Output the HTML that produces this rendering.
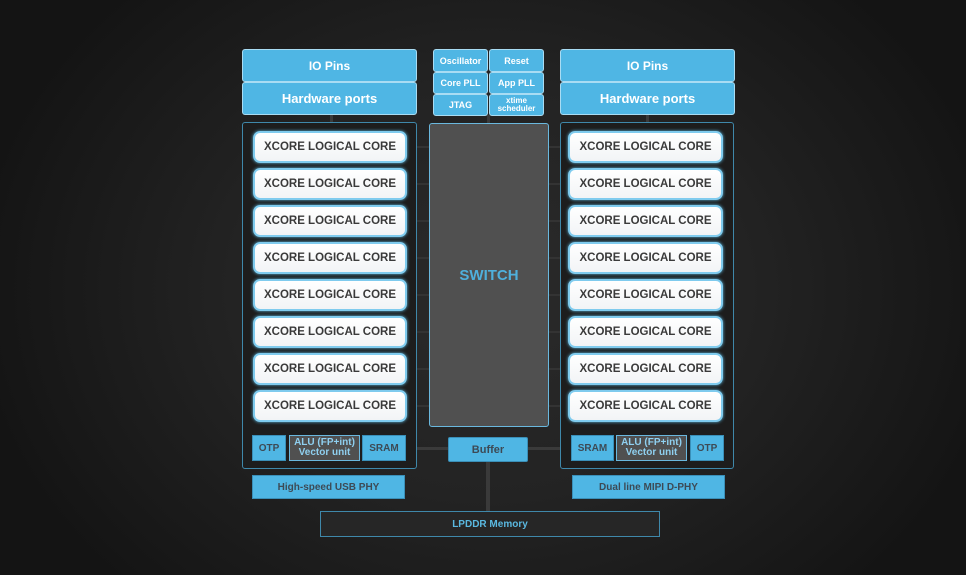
<!DOCTYPE html>
<html><head><meta charset="utf-8"><style>
html,body{margin:0;padding:0}
body{width:966px;height:575px;overflow:hidden;position:relative;font-family:"Liberation Sans",Arial,sans-serif;font-weight:bold;
background:radial-gradient(ellipse 520px 420px at 490px 290px,#2a2a2a 0%,#232323 50%,#1a1a1a 80%,#141414 100%);}
.a{position:absolute;box-sizing:border-box;display:flex;align-items:center;justify-content:center;text-align:center}
.blue{background:#4fb6e4;border:1px solid #a9dcf3;color:#fff;border-radius:3px}
.bl2{background:#4fb6e4;color:#3d4a55;border:1px solid #3a8fb8}
.panel{border:1.5px solid #3f88aa;border-radius:3px;background:#1d1d1d}
.core{background:linear-gradient(#ffffff,#f2f4f6);border:2px solid #7fcbee;border-radius:7px;color:#3a3a3a;font-size:11.5px;box-shadow:0 0 3px #5ab8e0}
.dark{background:#505050;border:1.5px solid #6ab8de;color:#8fd0f0}
.ln{position:absolute;background:#3a3a3a}
.dl{position:absolute;height:2px;background:#333}
.sm{font-size:9px}
</style></head><body>
<!-- connectors -->
<div class="ln" style="left:487px;top:115px;width:3px;height:8px"></div>
<div class="ln" style="left:330px;top:114px;width:3px;height:9px"></div>
<div class="ln" style="left:646px;top:114px;width:3px;height:9px"></div>
<div class="ln" style="left:486px;top:461px;width:4px;height:51px"></div>
<div class="ln" style="left:405px;top:447px;width:44px;height:3px"></div>
<div class="ln" style="left:527px;top:447px;width:45px;height:3px"></div>
<div class="dl" style="left:406px;top:146px;width:24px"></div>
<div class="dl" style="left:406px;top:183px;width:24px"></div>
<div class="dl" style="left:406px;top:220px;width:24px"></div>
<div class="dl" style="left:406px;top:257px;width:24px"></div>
<div class="dl" style="left:406px;top:294px;width:24px"></div>
<div class="dl" style="left:406px;top:331px;width:24px"></div>
<div class="dl" style="left:406px;top:368px;width:24px"></div>
<div class="dl" style="left:406px;top:405px;width:24px"></div>
<div class="dl" style="left:548px;top:146px;width:21px"></div>
<div class="dl" style="left:548px;top:183px;width:21px"></div>
<div class="dl" style="left:548px;top:220px;width:21px"></div>
<div class="dl" style="left:548px;top:257px;width:21px"></div>
<div class="dl" style="left:548px;top:294px;width:21px"></div>
<div class="dl" style="left:548px;top:331px;width:21px"></div>
<div class="dl" style="left:548px;top:368px;width:21px"></div>
<div class="dl" style="left:548px;top:405px;width:21px"></div>

<div class="a blue" style="left:242px;top:49px;width:175px;height:33px;font-size:12px">IO Pins</div>
<div class="a blue" style="left:242px;top:82px;width:175px;height:33px;font-size:13px">Hardware ports</div>
<div class="a blue" style="left:560px;top:49px;width:175px;height:33px;font-size:12px">IO Pins</div>
<div class="a blue" style="left:560px;top:82px;width:175px;height:33px;font-size:13px">Hardware ports</div>

<div class="a blue sm" style="left:433px;top:49px;width:55px;height:23px">Oscillator</div>
<div class="a blue sm" style="left:489px;top:49px;width:55px;height:23px">Reset</div>
<div class="a blue sm" style="left:433px;top:72px;width:55px;height:22px">Core PLL</div>
<div class="a blue sm" style="left:489px;top:72px;width:55px;height:22px">App PLL</div>
<div class="a blue sm" style="left:433px;top:94px;width:55px;height:22px">JTAG</div>
<div class="a blue" style="left:489px;top:94px;width:55px;height:22px;font-size:8px;line-height:8px">xtime<br>scheduler</div>

<div class="a panel" style="left:242px;top:122px;width:175px;height:347px"></div>
<div class="a panel" style="left:560px;top:122px;width:174px;height:347px"></div>

<div class="a dark" style="left:429px;top:123px;width:120px;height:304px;border-radius:3px;font-size:15px;color:#4fb0dc">SWITCH</div>

<div class="a core" style="left:253px;top:131px;width:154px;height:32px">XCORE LOGICAL CORE</div>
<div class="a core" style="left:253px;top:168px;width:154px;height:32px">XCORE LOGICAL CORE</div>
<div class="a core" style="left:253px;top:205px;width:154px;height:32px">XCORE LOGICAL CORE</div>
<div class="a core" style="left:253px;top:242px;width:154px;height:32px">XCORE LOGICAL CORE</div>
<div class="a core" style="left:253px;top:279px;width:154px;height:32px">XCORE LOGICAL CORE</div>
<div class="a core" style="left:253px;top:316px;width:154px;height:32px">XCORE LOGICAL CORE</div>
<div class="a core" style="left:253px;top:353px;width:154px;height:32px">XCORE LOGICAL CORE</div>
<div class="a core" style="left:253px;top:390px;width:154px;height:32px">XCORE LOGICAL CORE</div>

<div class="a core" style="left:568px;top:131px;width:155px;height:32px">XCORE LOGICAL CORE</div>
<div class="a core" style="left:568px;top:168px;width:155px;height:32px">XCORE LOGICAL CORE</div>
<div class="a core" style="left:568px;top:205px;width:155px;height:32px">XCORE LOGICAL CORE</div>
<div class="a core" style="left:568px;top:242px;width:155px;height:32px">XCORE LOGICAL CORE</div>
<div class="a core" style="left:568px;top:279px;width:155px;height:32px">XCORE LOGICAL CORE</div>
<div class="a core" style="left:568px;top:316px;width:155px;height:32px">XCORE LOGICAL CORE</div>
<div class="a core" style="left:568px;top:353px;width:155px;height:32px">XCORE LOGICAL CORE</div>
<div class="a core" style="left:568px;top:390px;width:155px;height:32px">XCORE LOGICAL CORE</div>

<div class="a bl2" style="left:252px;top:435px;width:34px;height:26px;font-size:10px">OTP</div>
<div class="a dark" style="left:289px;top:435px;width:71px;height:26px;font-size:10px;line-height:10px;color:#8fd0f0">ALU (FP+int)<br>Vector unit</div>
<div class="a bl2" style="left:362px;top:435px;width:44px;height:26px;font-size:10px">SRAM</div>

<div class="a bl2" style="left:571px;top:435px;width:43px;height:26px;font-size:10px">SRAM</div>
<div class="a dark" style="left:616px;top:435px;width:71px;height:26px;font-size:10px;line-height:10px;color:#8fd0f0">ALU (FP+int)<br>Vector unit</div>
<div class="a bl2" style="left:690px;top:435px;width:34px;height:26px;font-size:10px">OTP</div>

<div class="a bl2" style="left:448px;top:437px;width:80px;height:25px;font-size:11px;border-radius:2px">Buffer</div>

<div class="a bl2" style="left:252px;top:475px;width:153px;height:24px;font-size:10px">High-speed USB PHY</div>
<div class="a bl2" style="left:572px;top:475px;width:153px;height:24px;font-size:10px">Dual line MIPI D-PHY</div>

<div class="a" style="left:320px;top:511px;width:340px;height:26px;background:#262626;border:1.5px solid #3f88aa;color:#5ab8e0;font-size:10px">LPDDR Memory</div>
</body></html>
